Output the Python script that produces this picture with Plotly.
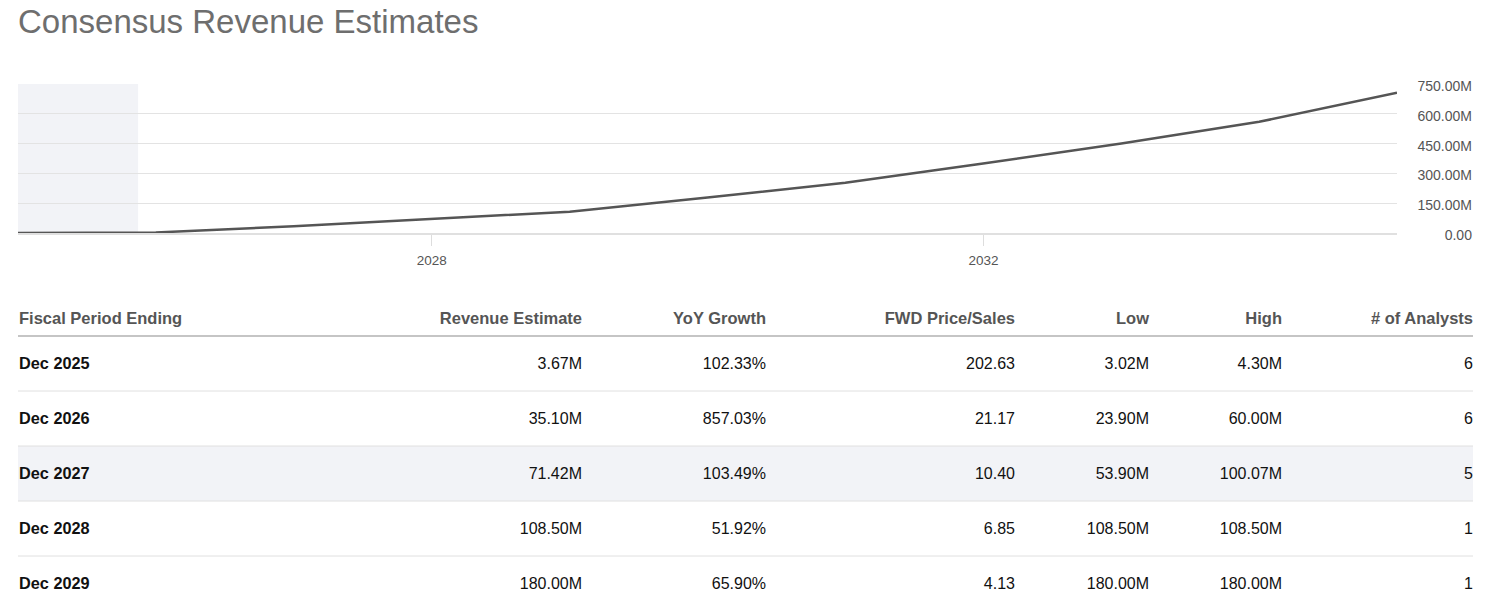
import plotly.graph_objects as go

# ---------------- data ----------------
chart_dates = ['2024-12-31', '2025-12-31', '2026-12-31', '2027-12-31', '2028-12-31',
               '2029-12-31', '2030-12-31', '2031-12-31', '2032-12-31', '2033-12-31',
               '2034-12-31']
chart_revenue_m = [1.81, 3.67, 35.10, 71.42, 108.50, 180.00, 254.0, 351.0, 451.0, 560.0, 706.0]

y_tick_vals = [0, 150, 300, 450, 600, 750]
y_tick_text = ['0.00', '150.00M', '300.00M', '450.00M', '600.00M', '750.00M']

past_start = '2024-12-31'
past_end = '2025-11-14'

table_headers = ['Fiscal Period Ending', 'Revenue Estimate', 'YoY Growth', 'FWD Price/Sales',
                 'Low', 'High', '# of Analysts', '']
periods = ['Dec 2025', 'Dec 2026', 'Dec 2027', 'Dec 2028', 'Dec 2029']
revenue_est = ['3.67M', '35.10M', '71.42M', '108.50M', '180.00M']
yoy_growth = ['102.33%', '857.03%', '103.49%', '51.92%', '65.90%']
fwd_ps = ['202.63', '21.17', '10.40', '6.85', '4.13']
low_est = ['3.02M', '23.90M', '53.90M', '108.50M', '180.00M']
high_est = ['4.30M', '60.00M', '100.07M', '108.50M', '180.00M']
analysts = ['6', '6', '5', '1', '1']
blank = ['', '', '', '', '']

# ---------------- layout constants ----------------
W, H = 1500, 609
FONT = 'Liberation Sans, Arial, sans-serif'


def py(pix):
    return 1 - pix / H


def px(pix):
    return pix / W


plot_left, plot_right = 18, 1397
plot_top, plot_bottom = 84, 233.3

table_top = 304
header_h = 45
row_h = 55

fig = go.Figure()

fig.add_trace(go.Scatter(
    x=chart_dates, y=chart_revenue_m, mode='lines',
    line=dict(color='#555555', width=2.5),
    hoverinfo='skip', showlegend=False,
    xaxis='x', yaxis='y',
))

col_widths = [289, 290, 184, 249, 134, 133, 191, 19]
aligns = ['left', 'right', 'right', 'right', 'right', 'right', 'right', 'right']

fig.add_trace(go.Table(
    domain=dict(x=[px(11), 1.0], y=[0.0, py(table_top)]),
    columnwidth=col_widths,
    header=dict(
        values=table_headers,
        align=aligns,
        height=header_h,
        fill=dict(color='rgba(0,0,0,0)'),
        line=dict(color='rgba(0,0,0,0)', width=0),
        font=dict(family=FONT, size=16.5, color='#555555', weight='bold'),
    ),
    cells=dict(
        values=[periods, revenue_est, yoy_growth, fwd_ps, low_est, high_est, analysts, blank],
        align=aligns,
        height=row_h,
        fill=dict(color='rgba(0,0,0,0)'),
        line=dict(color='rgba(0,0,0,0)', width=0),
        font=dict(family=FONT, size=[16.3, 16, 16, 16, 16, 16, 16, 16], color='#111111',
                  weight=['bold', 'normal', 'normal', 'normal', 'normal', 'normal', 'normal', 'normal']),
    ),
))

# past-period shading in chart
fig.add_shape(type='rect', xref='x', yref='y domain', x0=past_start, x1=past_end,
              y0=0, y1=1, fillcolor='#f2f3f7', line=dict(width=0), layer='below')

# table rules (positions from reference)
header_line_y = 336
row_lines_y = [391, 446, 501, 556]
fig.add_shape(type='rect', xref='paper', yref='paper', x0=px(18), x1=px(1473),
              y0=py(501), y1=py(446), fillcolor='#f2f3f7', line=dict(width=0), layer='below')
fig.add_shape(type='line', xref='paper', yref='paper', x0=px(18), x1=px(1473),
              y0=py(header_line_y), y1=py(header_line_y), line=dict(color='#8c8c8c', width=1.2),
              layer='above')
for ly in row_lines_y:
    fig.add_shape(type='line', xref='paper', yref='paper', x0=px(18), x1=px(1473),
                  y0=py(ly), y1=py(ly), line=dict(color='#e0e0e0', width=1), layer='above')

fig.update_layout(
    width=W, height=H,
    margin=dict(l=0, r=0, t=0, b=0, autoexpand=False),
    paper_bgcolor='white', plot_bgcolor='white',
    font=dict(family=FONT, color='#555555'),
    title=dict(text='Consensus Revenue Estimates', x=px(18), xanchor='left', xref='paper',
               y=py(21), yanchor='middle', yref='paper',
               font=dict(family=FONT, size=33, color='#6e6e6e')),
    xaxis=dict(
        domain=[px(plot_left), px(plot_right)],
        type='date', range=[chart_dates[0], chart_dates[-1]],
        tick0='2028-01-01', dtick='M48', tickformat='%Y',
        showgrid=False, zeroline=False,
        showline=True, linecolor='#e0e0e0', linewidth=2,
        ticks='outside', ticklen=11, tickcolor='#dddddd', tickwidth=1,
        ticklabelstandoff=2,
        tickfont=dict(family=FONT, size=13.5, color='#555555'),
        anchor='y', fixedrange=True,
    ),
    yaxis=dict(
        domain=[py(plot_bottom), py(plot_top)],
        range=[0, 750],
        tickvals=y_tick_vals, ticktext=y_tick_text,
        showgrid=True, gridcolor='#e3e3e3', gridwidth=1,
        zeroline=False, showline=False, ticks='',
        anchor='free', side='left', position=0.9813,
        ticklabelshift=2,
        tickfont=dict(family=FONT, size=14, color='#555555'),
        fixedrange=True,
    ),
)

fig.write_html("out.html", config={'displayModeBar': False},
               post_script="document.body.style.margin='0';")
